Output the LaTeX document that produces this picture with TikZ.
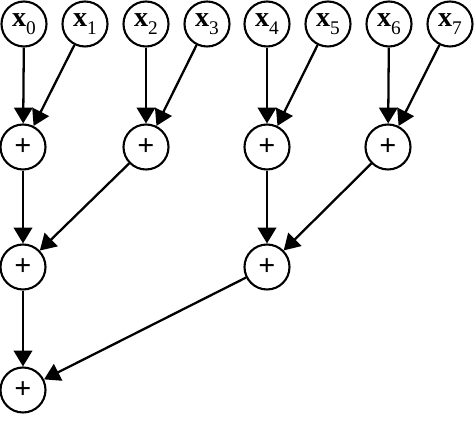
\documentclass[tikz,border=0pt]{standalone}
\usepackage{fontspec}
\setmainfont{Liberation Serif}
\usetikzlibrary{arrows.meta}
\newcommand{\xsub}[1]{\textbf{x}\raisebox{-0.3em}{\fontsize{11}{11}\selectfont #1}}
\begin{document}
\begin{tikzpicture}[x=0.02cm,y=-0.02cm,
  every node/.style={font=\fontsize{16}{16}\selectfont},
  val/.style={draw,circle,line width=1.2pt,minimum size=0.9cm,inner sep=0pt},
  add/.style={val,font=\fontsize{17}{17}\selectfont\bfseries},
  link/.style={line width=1.3pt,-{Triangle[length=9pt,width=10.5pt]}}]
\useasboundingbox (0,0) rectangle (474,438);
% inputs
\foreach \i/\px in {0/24,1/85,2/146,3/207,4/267,5/328,6/389,7/450}
  \node[val] (x\i) at (\px,24) {\xsub{\i}};
% partial sums
\node[add] (s01) at (23,147) {+};
\node[add] (s23) at (146,147) {+};
\node[add] (s45) at (267,147) {+};
\node[add] (s67) at (388,147) {+};
\node[add] (s03) at (23,267) {+};
\node[add] (s47) at (267,267) {+};
\node[add] (s07) at (23,390) {+};
\draw[link] (x0) -- (s01);
\draw[link] (x1) -- (s01);
\draw[link] (x2) -- (s23);
\draw[link] (x3) -- (s23);
\draw[link] (x4) -- (s45);
\draw[link] (x5) -- (s45);
\draw[link] (x6) -- (s67);
\draw[link] (x7) -- (s67);
\draw[link] (s01) -- (s03);
\draw[link] (s23) -- (s03);
\draw[link] (s45) -- (s47);
\draw[link] (s67) -- (s47);
\draw[link] (s03) -- (s07);
\draw[link] (s47) -- (s07);
\end{tikzpicture}
\end{document}
